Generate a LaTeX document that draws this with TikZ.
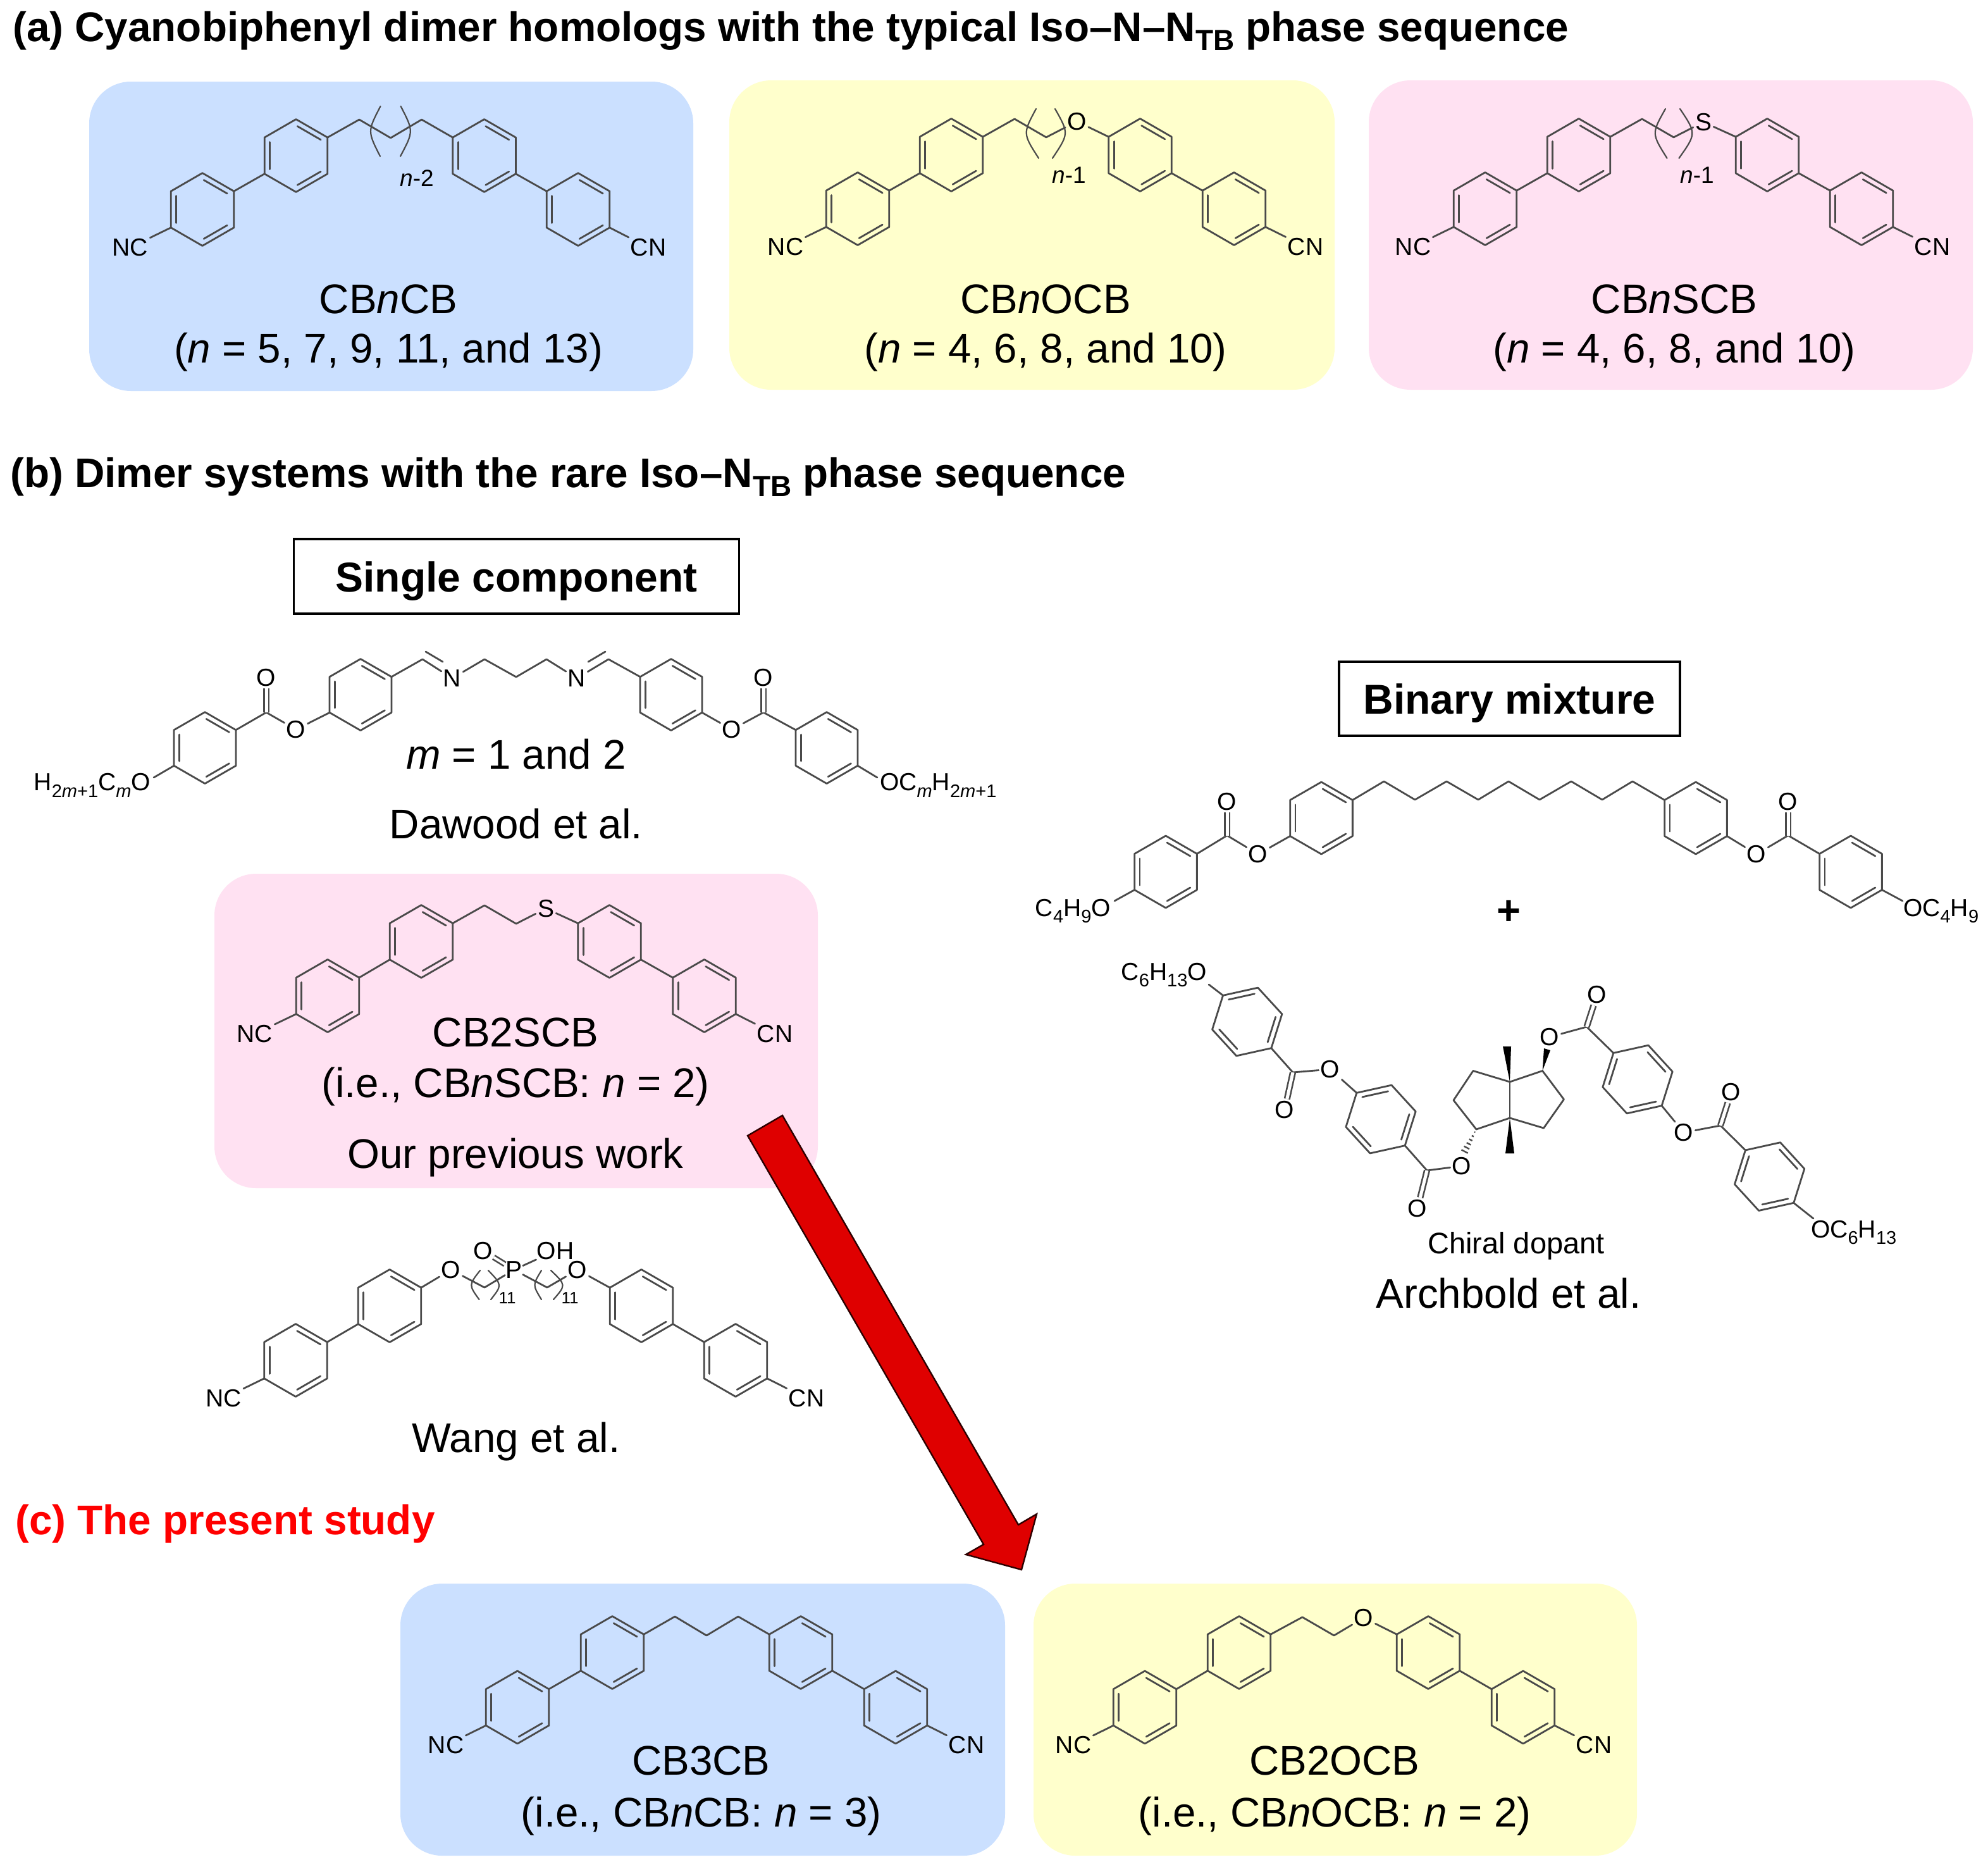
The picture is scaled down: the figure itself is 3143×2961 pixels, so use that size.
\documentclass[tikz,border=0pt]{standalone}
\usepackage{fontspec}
\setmainfont{Liberation Sans}
\usetikzlibrary{calc}
\definecolor{boxblue}{HTML}{CBE0FF}
\definecolor{boxyellow}{HTML}{FFFFCC}
\definecolor{boxpink}{HTML}{FFE1F2}
\definecolor{bondgrey}{HTML}{4A4A4A}
\definecolor{arrowred}{HTML}{DF0000}
\newcommand{\fs}[1]{\fontsize{#1}{#1}\selectfont}
\newcommand{\subs}[1]{\raisebox{-0.28em}{\fs{29}#1}}
\tikzset{
  x=1pt,y=-1pt,
  bond/.style={draw=bondgrey,line width=2.8pt,line cap=round,line join=round},
  dbl/.style={draw=bondgrey,line width=2.6pt,double=white,double distance=5pt},
  atom/.style={font=\fs{39},inner sep=3pt,text=black},
  sublab/.style={font=\fs{37},inner sep=0pt,text=black},
  lab/.style={font=\fs{65.5},anchor=base,inner sep=0pt,text=black},
  head/.style={font=\bfseries\fs{65.6},anchor=base west,inner sep=0pt,text=black},
  titlebox/.style={draw=black,line width=3.6pt,font=\bfseries\fs{66},inner sep=0pt},
  panel/.style={rounded corners=66pt},
}
% ring: name, cx, cy, first double-bond angle (screen clockwise)
\newcommand{\benz}[5][57.5]{%
  \foreach \k in {0,...,5}{%
    \coordinate (#2-\k) at ({#3+#1*cos(#5+60*\k)},{#4+#1*sin(#5+60*\k)});
  }
  \draw[bond] (#2-0)--(#2-1)--(#2-2)--(#2-3)--(#2-4)--(#2-5)--cycle;
  \foreach \k in {0,120,240}{%
    \draw[bond,shorten <=2.5pt,shorten >=2.5pt]
      ({#3+0.83*#1*cos(#5+\k)},{#4+0.83*#1*sin(#5+\k)}) --
      ({#3+0.83*#1*cos(#5+\k+60)},{#4+0.83*#1*sin(#5+\k+60)});
  }
}
% cyanobiphenyl pair: prefix, r1x, r2x, r3x, r4x, y outer, y inner, NC x, CN x
\newcommand{\cbbody}[9]{%
  \benz{#1a}{#2}{#6}{-90}
  \benz{#1b}{#3}{#7}{-90}
  \benz{#1c}{#4}{#7}{-90}
  \benz{#1d}{#5}{#6}{-90}
  \draw[bond] (#1a-1)--(#1b-4);
  \draw[bond] (#1c-2)--(#1d-5);
  \node[atom] (#1nc) at (#8,{#6+60}) {NC};
  \node[atom] (#1cn) at (#9,{#6+60}) {CN};
  \draw[bond] (#1a-4)--(#1nc);
  \draw[bond] (#1d-2)--(#1cn);
}
\newcommand{\para}[6]{\draw[bond,line width=2.2pt] (#1,#2) .. controls (#3,{(#2+#5)/2}) .. (#4,#5);}
\begin{document}
\begin{tikzpicture}
\useasboundingbox (0,0) rectangle (3143,2961);
\fill[white] (0,0) rectangle (3143,2961);

% ---- panels
\fill[boxblue,panel] (141,129) rectangle (1096,618);
\fill[boxyellow,panel] (1153,127) rectangle (2110,616);
\fill[boxpink,panel] (2164,127) rectangle (3119,616);
\fill[boxpink,panel] (339,1381) rectangle (1293,1878);
\fill[boxblue,panel] (633,2503) rectangle (1589,2933);
\fill[boxyellow,panel] (1634,2503) rectangle (2588,2933);

% ---- headings
\node[head] (heada) at (20,65) {(a) Cyanobiphenyl dimer homologs with the typical Iso–N–N\raisebox{-0.22em}{\fs{46}TB} phase sequence};
\node[head] (headb) at (16,770) {(b) Dimer systems with the rare Iso–N\raisebox{-0.22em}{\fs{46}TB} phase sequence};
\node[head,text=red] (headc) at (24,2425) {(c) The present study};

% ---- CBnCB
\cbbody{ma}{320}{468}{765.6}{914}{331}{246}{206}{1025}
\coordinate (ma1) at (568,189);
\coordinate (ma2) at (617.6,218);
\coordinate (ma3) at (666.6,189);
\draw[bond] (mab-1)--(ma1)--(ma2)--(ma3)--(mac-5);
\para{601.5}{168}{581}{601}{247}{}
\para{633.6}{168}{654}{633}{247}{}
\node[sublab] (man) at (659,282) {\textit{n}-2};
\node[lab] (mat1) at (614,495) {CB\textit{n}CB};
\node[lab] (mat2) at (614,573) {(\textit{n} = 5, 7, 9, 11, and 13)};

% ---- CBnOCB
\cbbody{mb}{1356}{1504}{1802.5}{1951}{330}{245}{1242}{2064}
\coordinate (mb1) at (1604,188);
\coordinate (mb2) at (1654,217);
\node[atom] (mbo) at (1702.5,192) {O};
\draw[bond] (mbb-1)--(mb1)--(mb2)--(mbo);
\draw[bond] (mbo)--(mbc-5);
\para{1638}{172}{1617}{1642}{250}{}
\para{1668}{172}{1690}{1664}{250}{}
\node[sublab] (mbn) at (1690,277) {\textit{n}-1};
\node[lab] (mbt1) at (1653,495) {CB\textit{n}OCB};
\node[lab] (mbt2) at (1653,573) {(\textit{n} = 4, 6, 8, and 10)};

% ---- CBnSCB
\cbbody{mc}{2348}{2496}{2794}{2943}{330}{245}{2234}{3055}
\coordinate (mc1) at (2596,188);
\coordinate (mc2) at (2646,217);
\node[atom] (mcs) at (2693,193) {S};
\draw[bond] (mcb-1)--(mc1)--(mc2)--(mcs);
\draw[bond] (mcs)--(mcc-5);
\para{2633}{172}{2611}{2635.5}{250}{}
\para{2656}{172}{2682}{2654.5}{250}{}
\node[sublab] (mcn) at (2683,277) {\textit{n}-1};
\node[lab] (mct1) at (2647,495) {CB\textit{n}SCB};
\node[lab] (mct2) at (2647,573) {(\textit{n} = 4, 6, 8, and 10)};

% ---- boxes
\node[titlebox,minimum width=704pt,minimum height=118pt] (single) at (816.5,911) {\smash{\raisebox{-24pt}{Single component}}};
\node[titlebox,minimum width=539pt,minimum height=117pt] (binary) at (2386.5,1104.5) {\smash{\raisebox{-23.5pt}{Binary mixture}}};

% ---- Dawood
\benz[56.5]{da}{324}{1182}{-90}
\benz[56.5]{db}{570}{1098}{-90}
\benz[56.5]{dc}{1061}{1098}{-90}
\benz[56.5]{dd}{1307}{1182}{-90}
\coordinate (dc1) at (421,1126);
\coordinate (dc2) at (1207,1126);
\node[atom] (do1) at (421,1071) {O};
\node[atom] (do2) at (468,1153) {O};
\node[atom] (do3) at (1207,1071) {O};
\node[atom] (do4) at (1157,1153) {O};
\draw[bond] (da-1)--(dc1)--(do2)--(db-4);
\draw[bond] (dd-5)--(dc2)--(do4)--(dc-2);
\draw[dbl] (dc1)--(do1);
\draw[dbl] (dc2)--(do3);
\node[atom] (dn1) at (715,1072) {N};
\node[atom] (dn2) at (912,1072) {N};
\coordinate (di1) at (668,1042);
\coordinate (di2) at (962,1042);
\coordinate (de1) at (766,1042);
\coordinate (de2) at (816,1070);
\coordinate (de3) at (864,1042);
\draw[bond] (db-1)--(di1)--(dn1);
\draw[bond] (dc-5)--(di2)--(dn2);
\coordinate (dd1a) at (673,1030);
\coordinate (dd1b) at (700,1046);
\coordinate (dd2a) at (957,1030);
\coordinate (dd2b) at (930,1046);
\draw[bond] (dd1a)--(dd1b);
\draw[bond] (dd2a)--(dd2b);
\draw[bond] (dn1)--(de1)--(de2)--(de3)--(dn2);
\node[atom,anchor=east,inner sep=0pt] (dl) at (238,1241) {H\subs{2\textit{m}+1}C\subs{\textit{m}}O};
\node[atom,anchor=west,inner sep=0pt] (dr) at (1391,1241) {OC\subs{\textit{m}}H\subs{2\textit{m}+1}};
\coordinate (dle) at (243,1229);
\coordinate (dre) at (1387,1229);
\draw[bond] (da-4)--(dle);
\draw[bond] (dd-2)--(dre);
\node[lab] (dt1) at (816,1215) {\textit{m} = 1 and 2};
\node[lab] (dt2) at (816,1325) {Dawood et al.};

% ---- CB2SCB
\cbbody{me}{518}{666}{963.5}{1113.5}{1574}{1488}{403}{1225}
\coordinate (me1) at (766,1431);
\coordinate (me2) at (816,1460);
\node[atom] (mes) at (863,1436) {S};
\draw[bond] (meb-1)--(me1)--(me2)--(mes);
\draw[bond] (mes)--(mec-5);
\node[lab] (met1) at (815,1654) {CB2SCB};
\node[lab] (met2) at (815,1734) {(i.e., CB\textit{n}SCB: \textit{n} = 2)};
\node[lab] (met3) at (815,1846) {Our previous work};

% ---- Wang
\cbbody{mw}{467.5}{616}{1014}{1163}{2150}{2064}{353.6}{1275}
\node[atom] (wo1) at (713,2007) {O};
\node[atom,inner sep=1pt] (wp) at (812.5,2007) {P};
\node[atom,inner sep=1pt] (wo2) at (764,1977) {O};
\node[atom,inner sep=1pt] (wh) at (878,1977) {OH};
\node[atom] (wo3) at (913,2007) {O};
\coordinate (wc1) at (766,2035);
\coordinate (wc2) at (865,2035);
\draw[bond] (mwb-1)--(wo1)--(wc1)--(wp)--(wc2)--(wo3)--(mwc-5);
\draw[dbl,double distance=4pt] (wp)--(wo2);
\draw[bond] (wp)--(wh);
\para{759}{2008}{741}{757.6}{2054}{}
\para{772}{2008}{794}{776}{2054}{}
\para{856}{2008}{842}{856}{2054}{}
\para{871}{2008}{895}{875}{2054}{}
\node[font=\fs{26},inner sep=0pt] (w11a) at (802,2052) {11};
\node[font=\fs{26},inner sep=0pt] (w11b) at (901,2052) {11};
\node[lab] (wt) at (816,2295) {Wang et al.};

% ---- Binary mixture dimer
\benz[57]{ba}{1843}{1378}{-90}
\benz[57]{bb}{2089}{1293}{-90}
\benz[57]{bc}{2681}{1293}{-90}
\benz[57]{bd}{2926}{1378}{-90}
\coordinate (bc1) at (1940,1320.5);
\coordinate (bc2) at (2827,1320.5);
\node[atom] (bo1) at (1940,1267) {O};
\node[atom] (bo2) at (1989,1350) {O};
\node[atom] (bo3) at (2827,1267) {O};
\node[atom] (bo4) at (2777,1350) {O};
\draw[bond] (ba-1)--(bc1)--(bo2)--(bb-4);
\draw[bond] (bd-5)--(bc2)--(bo4)--(bc-2);
\draw[dbl] (bc1)--(bo1);
\draw[dbl] (bc2)--(bo3);
\coordinate (bz1) at (2188,1235);
\coordinate (bz2) at (2237,1264);
\coordinate (bz3) at (2287,1235);
\coordinate (bz4) at (2337,1264);
\coordinate (bz5) at (2385,1235);
\coordinate (bz6) at (2434,1264);
\coordinate (bz7) at (2484,1235);
\coordinate (bz8) at (2533,1264);
\coordinate (bz9) at (2581,1235);
\draw[bond] (bb-1)--(bz1)--(bz2)--(bz3)--(bz4)--(bz5)--(bz6)--(bz7)--(bz8)--(bz9)--(bc-5);
\node[atom,anchor=east,inner sep=0pt] (bl) at (1756,1440) {C\subs{4}H\subs{9}O};
\node[atom,anchor=west,inner sep=0pt] (br) at (3009,1440) {OC\subs{4}H\subs{9}};
\coordinate (ble) at (1762,1424);
\coordinate (bre) at (3008,1424);
\draw[bond] (ba-4)--(ble);
\draw[bond] (bd-2)--(bre);
\node[font=\bfseries\fs{65},inner sep=0pt] (plus) at (2385,1442) {+};

% ---- Chiral dopant
\benz[56.5]{ca}{1971.7}{1615}{-12.5}
\benz[56.5]{cb}{2183}{1769}{-12.5}
\benz[56.5]{cc}{2589}{1706}{-72.5}
\benz[56.5]{cd}{2797.6}{1859.6}{-72.5}
\node[atom,anchor=east,inner sep=0pt] (cl) at (1908,1541) {C\subs{6}H\subs{13}O};
\coordinate (cle) at (1911,1556);
\draw[bond] (cle)--(ca-4);
\coordinate (ce1) at (2044,1695);
\node[atom] (co1) at (2031,1754) {O};
\node[atom] (co2) at (2103,1690) {O};
\draw[bond] (ca-1)--(ce1)--(co2)--(cb-4);
\draw[dbl] (ce1)--(co1);
\coordinate (ce2) at (2256,1850);
\node[atom] (co3) at (2241,1910) {O};
\node[atom] (co4) at (2311,1843) {O};
\draw[bond] (cb-1)--(ce2)--(co4);
\draw[dbl] (ce2)--(co3);
% pentalene core
\coordinate (b1) at (2387,1710);
\coordinate (b2) at (2387,1767);
\coordinate (c1) at (2438.6,1692.5);
\coordinate (c2) at (2472.5,1737.6);
\coordinate (c3) at (2440.5,1783);
\coordinate (c4) at (2334,1785);
\coordinate (c5) at (2298,1739);
\coordinate (c6) at (2329,1692.5);
\draw[bond] (b1)--(c1)--(c2)--(c3)--(b2)--(c4)--(c5)--(c6)--cycle;
\draw[bond] (b1)--(b2);
\fill[black] (b1)--(2376,1654)--(2389,1654)--cycle;
\fill[black] (b2)--(2380,1823)--(2394,1823)--cycle;
\fill[black] (c1)--(2441,1657)--(2451,1660)--cycle;
\foreach \t in {0.12,0.28,0.44,0.60,0.76,0.92}{
  \draw[bondgrey,line width=2.4pt] ({2334-20*\t+5.5*\t},{1785+38*\t+2.9*\t}) -- ({2334-20*\t-5.5*\t},{1785+38*\t-2.9*\t});
}
\node[atom] (co5) at (2450,1639) {O};
\coordinate (ce3) at (2508.5,1623);
\node[atom] (co6) at (2525,1572) {O};
\draw[bond] (co5)--(ce3)--(cc-5);
\draw[dbl] (ce3)--(co6);
\coordinate (ce4) at (2720,1779);
\node[atom] (co7) at (2662,1790) {O};
\node[atom] (co8) at (2737,1726) {O};
\draw[bond] (cc-2)--(co7)--(ce4)--(cd-5);
\draw[dbl] (ce4)--(co8);
\node[atom,anchor=west,inner sep=0pt] (cr) at (2863,1948) {OC\subs{6}H\subs{13}};
\coordinate (cre) at (2867,1926);
\draw[bond] (cd-2)--(cre);
\node[font=\fs{47},anchor=base,inner sep=0pt] (cdop) at (2397,1981) {Chiral dopant};
\node[lab] (archb) at (2385,2067) {Archbold et al.};

% ---- CB3CB
\cbbody{mf}{818}{968}{1266}{1416}{2698.5}{2612}{705}{1528}
\coordinate (mf1) at (1067,2555);
\coordinate (mf2) at (1117,2585);
\coordinate (mf3) at (1167,2555);
\draw[bond] (mfb-1)--(mf1)--(mf2)--(mf3)--(mfc-5);
\node[lab] (mft1) at (1108.5,2805) {CB3CB};
\node[lab] (mft2) at (1108.5,2887) {(i.e., CB\textit{n}CB: \textit{n} = 3)};

% ---- CB2OCB
\cbbody{mg}{1810}{1959}{2258}{2408}{2698.5}{2612}{1697}{2520}
\coordinate (mg1) at (2059,2556);
\coordinate (mg2) at (2109,2585);
\node[atom] (mgo) at (2156,2557) {O};
\draw[bond] (mgb-1)--(mg1)--(mg2)--(mgo);
\draw[bond] (mgo)--(mgc-5);
\node[lab] (mgt1) at (2110,2805) {CB2OCB};
\node[lab] (mgt2) at (2110,2887) {(i.e., CB\textit{n}OCB: \textit{n} = 2)};

% ---- big arrow
\filldraw[fill=arrowred,draw=black!80!arrowred,line width=2.4pt,line join=miter]
  (1237,1763)--(1610,2410)--(1639,2393)--(1615,2481)--(1527,2457)--(1555,2441)--(1182,1795)--cycle;
\end{tikzpicture}
\end{document}
